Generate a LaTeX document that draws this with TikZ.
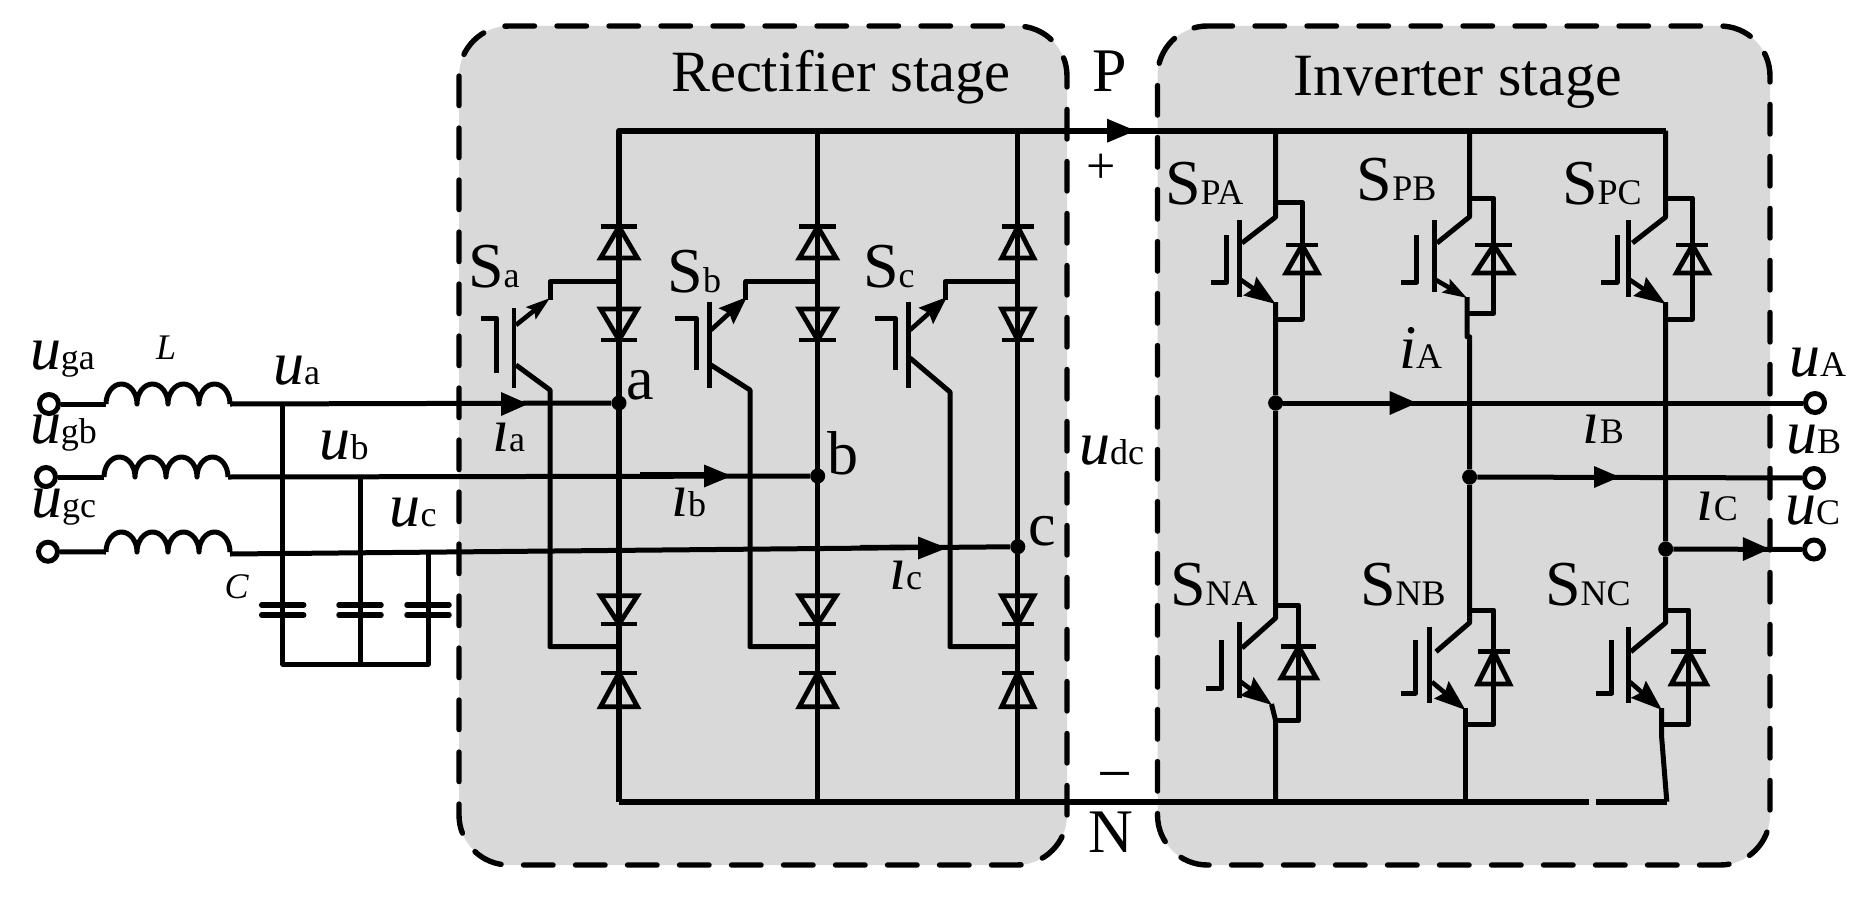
\documentclass[tikz,border=0pt]{standalone}
\usepackage{fontspec}
\setmainfont{Liberation Serif}
\usetikzlibrary{arrows.meta}
\definecolor{stagegray}{HTML}{D9D9D9}
\newcommand\fsz[1]{\fontsize{#1}{#1}\selectfont}
\newcommand\vr[3]{{\fsz{62}\itshape #1}\kern#3pt{\fsz{36}#2}}
\newcommand\sw[1]{{\fsz{64}S}{\fsz{36}#1}}
\newcommand\lab[4]{\node[txt] (#1) at (#2,#3) {#4};}
\newcommand\cliplab[4]{\begin{scope}\clip (#2-6,#3-30) rectangle (#2+70,#3+16); \node[txt] (#1) at (#2,#3) {#4};\end{scope}}
\newcommand\diode[4]{\draw[part] (#1-#4,#2) -- (#1+#4,#2);
  \draw[part,line join=miter] (#1-#4,#3) -- (#1+#4,#3) -- (#1,#2) -- cycle;}
\newcommand\gatetop[7]{\draw[part] (#1,#2) -- (#1,#3);
  \draw[wire] (#4,#6) -- (#4,#5) -- (#7,#5);}
\newcommand\gatebot[7]{\draw[part] (#1,#2) -- (#1,#3);
  \draw[wire] (#4,#5) -- (#4,#6) -- (#7,#6);}
\newcommand\head[4]{\fill (#1,#3-#4) -- (#2,#3) -- (#1,#3+#4) -- cycle;}
\newcommand\inductor[2]{\draw[wire] (#1,#2) arc[start angle=180,end angle=0,x radius=15.5pt,y radius=20pt]
  arc[start angle=180,end angle=0,x radius=15.5pt,y radius=20pt]
  arc[start angle=180,end angle=0,x radius=15.5pt,y radius=20pt]
  arc[start angle=180,end angle=0,x radius=15.5pt,y radius=20pt];}
\newcommand\capac[4]{\draw[plate] (#1-#4,#2) -- (#1+#4,#2); \draw[plate] (#1-#4,#3) -- (#1+#4,#3);}
\tikzset{
  stagebox/.style={fill=stagegray,draw=black,line width=5.4pt,line cap=round,dash pattern=on 29.5pt off 22.5pt},
  wire/.style={draw=black,line width=5pt,line join=round},
  rail/.style={draw=black,line width=5.8pt,line join=round},
  part/.style={draw=black,line width=4.8pt},
  plate/.style={draw=black,line width=5.5pt,line cap=round},
  emit/.style={draw=black,line width=4.6pt,-{Stealth[length=31pt,width=22pt,inset=4pt]}},
  emitb/.style={draw=black,line width=4.6pt,-{Stealth[length=28pt,width=21pt,inset=4pt]}},
  emits/.style={draw=black,line width=4.6pt,-{Stealth[length=24pt,width=15pt,inset=4pt]}},
  term/.style={circle,draw=black,fill=white,line width=5pt,minimum size=19pt,inner sep=0pt},
  dot/.style={circle,fill=black,minimum size=15pt,inner sep=0pt},
  txt/.style={anchor=base west,inner sep=0pt,outer sep=0pt}
}
\begin{document}
\begin{tikzpicture}[x=1pt,y=-1pt]
\useasboundingbox (0,0) rectangle (1865,899);
% stage boxes
\draw[stagebox] (505,26) -- (1017,26) arc[start angle=90,end angle=0,radius=50pt] -- (1067,815) arc[start angle=0,end angle=-90,radius=50pt] -- (509,865) arc[start angle=-90,end angle=-180,radius=50pt] -- (459,76) arc[start angle=180,end angle=90,radius=50pt] -- cycle;
\draw[stagebox] (1203,26) -- (1720,26) arc[start angle=90,end angle=0,radius=50pt] -- (1770,815) arc[start angle=0,end angle=-90,radius=50pt] -- (1207.5,865) arc[start angle=-90,end angle=-180,radius=50pt] -- (1157.5,76) arc[start angle=180,end angle=90,radius=50pt] -- cycle;

% junction and terminal nodes
\node[dot] (da) at (619,403) {};
\node[dot] (db) at (817.7,476) {};
\node[dot] (dc) at (1017.8,546.7) {};
\node[dot] (dA) at (1275.6,403) {};
\node[dot] (dB) at (1469.6,477) {};
\node[dot] (dC) at (1665.7,549) {};
\node[term] (tga) at (49,404) {};
\node[term] (tgb) at (46,477) {};
\node[term] (tgc) at (48,551.7) {};
\node[term] (tA) at (1815,403) {};
\node[term] (tB) at (1814,478) {};
\node[term] (tC) at (1814,549.5) {};
\coordinate (la0) at (106,404); \coordinate (la1) at (230,404);
\coordinate (lb0) at (104,477); \coordinate (lb1) at (228,477);
\coordinate (lc0) at (106,552); \coordinate (lc1) at (230,554);
\coordinate (ja) at (282.7,404); \coordinate (jb) at (360,477); \coordinate (jc) at (428,552);
\coordinate (ba) at (282.7,664); \coordinate (bb) at (360,664); \coordinate (bc) at (428,664);
\coordinate (pL) at (619,130.7); \coordinate (pM) at (817.7,130.7); \coordinate (pR) at (1017.8,130.7);
\coordinate (pA) at (1275.6,130.7); \coordinate (pB) at (1469.6,130.7); \coordinate (pC) at (1665.7,130.7);
\coordinate (nL) at (619,801.7); \coordinate (nM) at (817.7,801.7); \coordinate (nR) at (1017.8,801.7);
\coordinate (nA) at (1275.6,801.7); \coordinate (nB) at (1465.5,801.7); \coordinate (nC) at (1666.8,801.7);

% AC side
\draw[wire] (tga) -- (la0); \inductor{106}{404} \draw[wire] (la1) -- (da);
\draw[wire] (tgb) -- (lb0); \inductor{104}{477} \draw[wire] (lb1) -- (db);
\draw[wire] (tgc) -- (lc0); \inductor{106}{552} \draw[wire] (lc1) -- (dc);
\draw[wire] (ja) -- (ba) -- (bc) -- (jc);
\draw[wire] (jb) -- (bb);
\capac{282.7}{605}{615}{21}
\capac{360}{605}{615}{21}
\capac{428}{605}{615}{21}

% rails
\draw[rail] (nL) -- (pL) -- (pC);
\draw[rail] (nL) -- (1588.7,801.7);
\draw[rail] (1596,801.7) -- (nC);
\draw[wire] (pM) -- (nM);
\draw[wire] (pR) -- (nR);

% rectifier diodes
\foreach \xx/\hw in {619/18.4,817.7/18.4,1017.8/16}{
  \diode{\xx}{226.7}{258}{\hw}
  \diode{\xx}{340}{309}{\hw}
  \diode{\xx}{624}{595.7}{\hw}
  \diode{\xx}{673}{706.7}{\hw}
}
% rectifier switches
\gatetop{514}{308}{388}{496.7}{318}{373}{481}
\draw[emits] (516,325) -- (550,298);
\draw[wire] (550,300) -- (550,281.7) -- (619,281.7);
\draw[wire] (516,365) -- (550,390) -- (550,646.7) -- (619,646.7);
\gatetop{709.4}{302}{388}{696}{318}{370}{675}
\draw[emitb] (711,330) -- (747,297);
\draw[wire] (745.8,300) -- (745.8,281.7) -- (817.7,281.7);
\draw[wire] (711,365) -- (750,390) -- (750,646.7) -- (817.7,646.7);
\gatetop{908.7}{302}{388}{895}{318}{370}{875}
\draw[emitb] (910,330) -- (947,297);
\draw[wire] (945,300) -- (945,281.7) -- (1017.8,281.7);
\draw[wire] (910,358) -- (950,392) -- (950,646.7) -- (1017.8,646.7);

% inverter leg A
\draw[wire] (pA) -- (1275.6,217) -- (1242,243);
\draw[wire] (1275.6,202) -- (1302,202) -- (1302,319) -- (1275.6,319);
\gatebot{1239.7}{220}{297}{1226.8}{235}{282}{1211.4}
\draw[emit] (1241,280) -- (1275.6,304);
\draw[wire] (1275.6,302) -- (dA) -- (1275.6,618) -- (1242,648);
\diode{1302}{245}{273}{16}
\draw[wire] (1275.6,605) -- (1298.7,605) -- (1298.7,720.7) -- (1275.6,720.7);
\gatebot{1239.7}{621.7}{698}{1221.7}{640}{688}{1206}
\draw[emit] (1241,682) -- (1272,705);
\draw[wire] (1271.5,704) -- (1275.6,720.7) -- (nA);
\diode{1298.7}{646.7}{678}{17.5}

% inverter leg B
\draw[wire] (pB) -- (1469.6,216.7) -- (1437,243);
\draw[wire] (1469.6,198) -- (1493.8,198) -- (1493.8,313) -- (1467,313);
\gatebot{1434.7}{220}{292}{1416.8}{235}{282}{1401.4}
\draw[emits] (1436,280) -- (1467,298);
\draw[wire] (1467,297) -- (1467,336.7) -- (1469.6,336.7) -- (dB) -- (1469.6,622.7) -- (1436,651.7);
\diode{1493.8}{245}{273}{18.5}
\draw[wire] (1469.6,610) -- (1493.8,610) -- (1493.8,724) -- (1465.5,724);
\gatebot{1429.6}{626.7}{703}{1415.7}{640}{693}{1401}
\draw[emit] (1432,682) -- (1465.5,710);
\draw[wire] (1465.5,708) -- (nB);
\diode{1493.8}{651.7}{684}{16}

% inverter leg C
\draw[wire] (pC) -- (1665.7,217) -- (1632.4,243);
\draw[wire] (1665.7,198) -- (1692.4,198) -- (1692.4,319) -- (1665.7,319);
\gatebot{1628.8}{220}{297}{1617}{235}{282}{1600.6}
\draw[emit] (1630,280) -- (1665.7,304);
\draw[wire] (1665.7,302) -- (dC) -- (1665.7,622.7) -- (1630.8,651.7);
\diode{1692.4}{245}{273}{16}
\draw[wire] (1665.7,610) -- (1688.9,610) -- (1688.9,724) -- (1661.6,724);
\gatebot{1628.8}{626.7}{703}{1611.8}{640}{693}{1596.4}
\draw[emit] (1630,682) -- (1662,710);
\draw[wire] (1661.6,708) -- (1661.6,736.7) -- (nC);
\diode{1688.9}{651.7}{684}{17.5}

% output lines
\draw[wire] (dA) -- (tA);
\draw[wire] (dB) -- (tB);
\draw[wire] (dC) -- (tC);

% current arrows
\head{501}{528}{404}{12}
\head{704}{731.5}{476}{11.5}
\head{918}{947}{548}{11.5}
\head{1107}{1135.5}{130.7}{12}
\head{1389.6}{1416.8}{403}{12}
\head{1594}{1619.5}{477}{11}
\head{1742.8}{1769.4}{549}{12}
\draw[wire] (640,474.5) -- (704,474.5);
\draw[wire] (860,547.5) -- (918,547);
\draw[wire,line width=3pt] (436,402.5) -- (501,403.5);

% labels
\lab{tRect}{671}{91}{\fsz{58.5}Rectifier stage}
\lab{tInv}{1293.6}{95}{\fsz{60}Inverter stage}
\lab{lP}{1092}{91.7}{\fsz{62}P}
\lab{lN}{1088}{852.7}{\fsz{62}N}
\node[inner sep=0pt] (lplus) at (1101,169) {\fsz{52}+};
\node[inner sep=0pt] (lminus) at (1115,783) {\fsz{62}−};
\lab{uga}{30}{369}{\vr{u}{ga}{0}}
\lab{ugb}{30}{443}{\vr{u}{gb}{0}}
\lab{ugc}{31}{517}{\vr{u}{gc}{0}}
\lab{lL}{156}{359}{\fsz{36}\itshape L}
\lab{lC}{224.6}{598}{\fsz{36}\itshape C}
\lab{ua}{273}{384}{\vr{u}{a}{0}}
\lab{ub}{319.5}{459}{\vr{u}{b}{0}}
\lab{uc}{389.5}{526}{\vr{u}{c}{0}}
\lab{Sa}{468}{287}{\sw{a}}
\lab{Sb}{667.5}{292}{\sw{b}}
\lab{Sc}{863}{287}{\sw{c}}
\cliplab{ia}{492}{451}{\vr{i}{a}{0}}
\cliplab{ib}{671}{516.7}{\vr{i}{b}{0}}
\cliplab{ic}{889}{589}{\vr{i}{c}{0}}
\lab{na}{626}{399}{\fsz{62}a}
\lab{nb}{827.6}{474}{\fsz{62}b}
\lab{nc}{1028}{545}{\fsz{62}c}
\lab{udc}{1079}{464}{\vr{u}{dc}{0}}
\lab{SPA}{1165}{204}{\sw{PA}}
\lab{SPB}{1356.7}{200}{\sw{PB}}
\lab{SPC}{1562}{204}{\sw{PC}}
\lab{SNA}{1170}{605.7}{\sw{NA}}
\lab{SNB}{1360}{605.7}{\sw{NB}}
\lab{SNC}{1545}{605.7}{\sw{NC}}
\lab{iA}{1399}{368}{\vr{i}{A}{0}}
\cliplab{iB}{1582.6}{443}{\vr{i}{B}{0}}
\cliplab{iC}{1696.6}{520}{\vr{i}{C}{0}}
\lab{uA}{1789}{376.7}{\vr{u}{A}{0}}
\lab{uB}{1786}{453}{\vr{u}{B}{0}}
\lab{uC}{1785}{524}{\vr{u}{C}{0}}
\end{tikzpicture}
\end{document}
